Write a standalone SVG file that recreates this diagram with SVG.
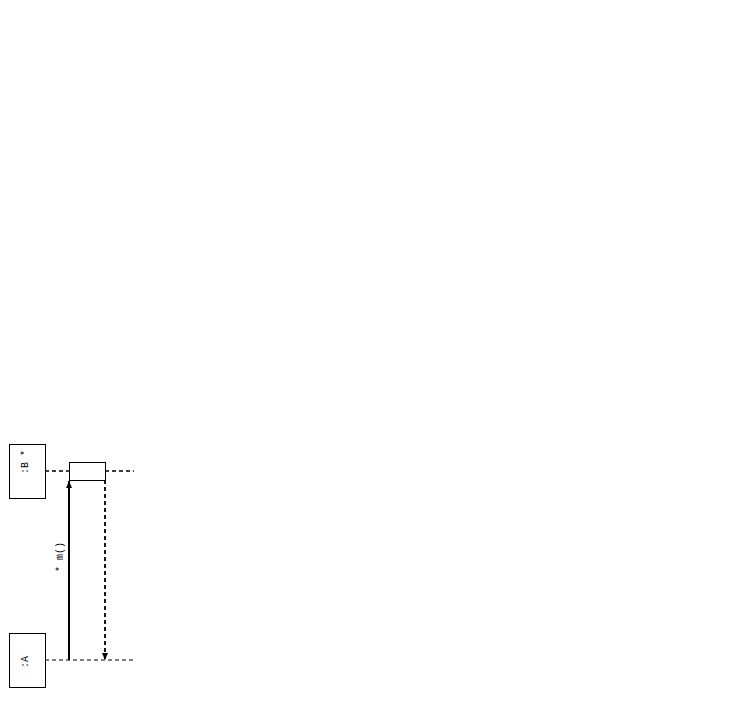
<svg xmlns="http://www.w3.org/2000/svg" width="756" height="706" viewBox="0 0 756 706">
<style>
.box{fill:#fff;stroke:#000;stroke-width:1}
.t{font-family:"Liberation Mono",monospace;font-size:10px;fill:#000;text-anchor:middle}
.life{stroke:#000;stroke-width:1;stroke-dasharray:4,3;fill:none}
.lifeb{stroke:#000;stroke-width:1.6;stroke-dasharray:4,3;fill:none}
</style>
<defs>
<marker id="ah" markerWidth="8" markerHeight="8" refX="7" refY="4" orient="auto" markerUnits="userSpaceOnUse">
<path d="M0,1 L7,4 L0,7 z" fill="#000"/>
</marker>
</defs>
<rect width="756" height="706" fill="#fff"/>
<g id="connectors">
<line class="lifeb" x1="45" y1="471" x2="69" y2="471"/>
<line class="lifeb" x1="105" y1="471" x2="134" y2="471"/>
<line class="life" x1="45" y1="660" x2="134" y2="660"/>
<line x1="69" y1="660" x2="69" y2="481" stroke="#000" stroke-width="2" marker-end="url(#ah)"/>
<line x1="105" y1="480" x2="105" y2="660" stroke="#000" stroke-width="1.8" stroke-dasharray="4,3" marker-end="url(#ah)"/>
<text class="t" transform="translate(63,557) rotate(-90)">* m()</text>
</g>
<g id="nodeB">
<rect class="box" x="9.5" y="444.5" width="36" height="54"/>
<text class="t" transform="translate(28,462) rotate(-90)">:B  *</text>
</g>
<g id="nodeA">
<rect class="box" x="9.5" y="633.5" width="36" height="54"/>
<text class="t" transform="translate(28,662) rotate(-90)">:A</text>
</g>
<g id="activation">
<rect class="box" x="69.5" y="462.5" width="36" height="18"/>
</g>
</svg>
